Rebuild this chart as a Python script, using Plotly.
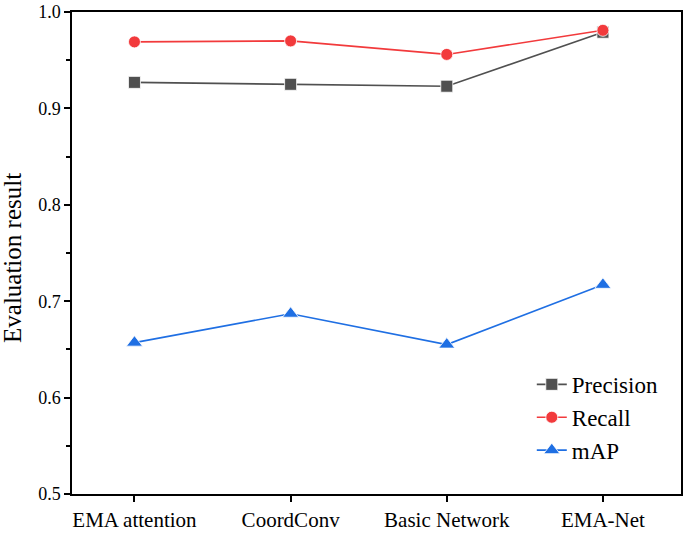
import plotly.graph_objects as go

# model variants on the x axis
models = ["EMA attention", "CoordConv", "Basic Network", "EMA-Net"]

precision = [0.927, 0.925, 0.923, 0.979]
recall = [0.969, 0.970, 0.956, 0.981]
map_vals = [0.657, 0.687, 0.655, 0.717]

y_ticks = [0.5, 0.6, 0.7, 0.8, 0.9, 1.0]

FONT = "Liberation Serif"

fig = go.Figure()

series = [
    ("Precision", precision, "#505050", "square"),
    ("Recall", recall, "#F23A3C", "circle"),
    ("mAP", map_vals, "#1F6FE3", "triangle-up"),
]
for name, vals, color, symbol in series:
    fig.add_trace(go.Scatter(
        x=list(range(len(models))), y=vals, name=name, mode="lines+markers",
        line=dict(color=color, width=1.6),
        marker=dict(symbol=symbol, size=12 if symbol != "triangle-up" else 14,
                    color=color, line=dict(color="white", width=0.8)),
    ))

fig.update_layout(
    width=685, height=534,
    margin=dict(l=72, r=2, t=8, b=34),
    paper_bgcolor="white", plot_bgcolor="white",
    font=dict(family=FONT, color="black", size=18),
    showlegend=True,
    legend=dict(x=0.755, y=0.272, xanchor="left", yanchor="top",
                bgcolor="rgba(0,0,0,0)", font=dict(size=23, family=FONT),
                tracegroupgap=0, itemwidth=30),
)

fig.update_xaxes(
    range=[-0.4, 3.5], tickmode="array",
    tickvals=list(range(len(models))), ticktext=models,
    showgrid=False, zeroline=False,
    showline=True, linecolor="black", linewidth=1.5, mirror=True,
    ticks="outside", ticklen=6, tickwidth=1.5, tickcolor="black",
    tickfont=dict(size=21, family=FONT),
)
fig.update_yaxes(
    range=[0.5, 1.0], tickmode="array",
    tickvals=y_ticks, ticktext=[f"{v:.1f}" for v in y_ticks],
    ticklabeloverflow="allow",
    showgrid=False, zeroline=False,
    showline=True, linecolor="black", linewidth=1.5, mirror=True,
    ticks="outside", ticklen=6, tickwidth=1.5, tickcolor="black",
    tickfont=dict(size=18, family=FONT),
    minor=dict(tickvals=[0.55, 0.65, 0.75, 0.85, 0.95], ticks="outside",
               ticklen=4, tickwidth=1.5, tickcolor="black"),
)

# y axis title as an annotation so it can sit close to the page edge
fig.add_annotation(
    text="Evaluation result", textangle=-90, showarrow=False,
    xref="paper", yref="paper", x=-0.0966, y=0.49,
    xanchor="center", yanchor="middle",
    font=dict(size=25, family=FONT, color="black"),
)

# drop the default page margin so the figure sits at the window corner
fig.write_html("out.html", config={"displayModeBar": False},
               post_script="document.body.style.margin='0px';")
